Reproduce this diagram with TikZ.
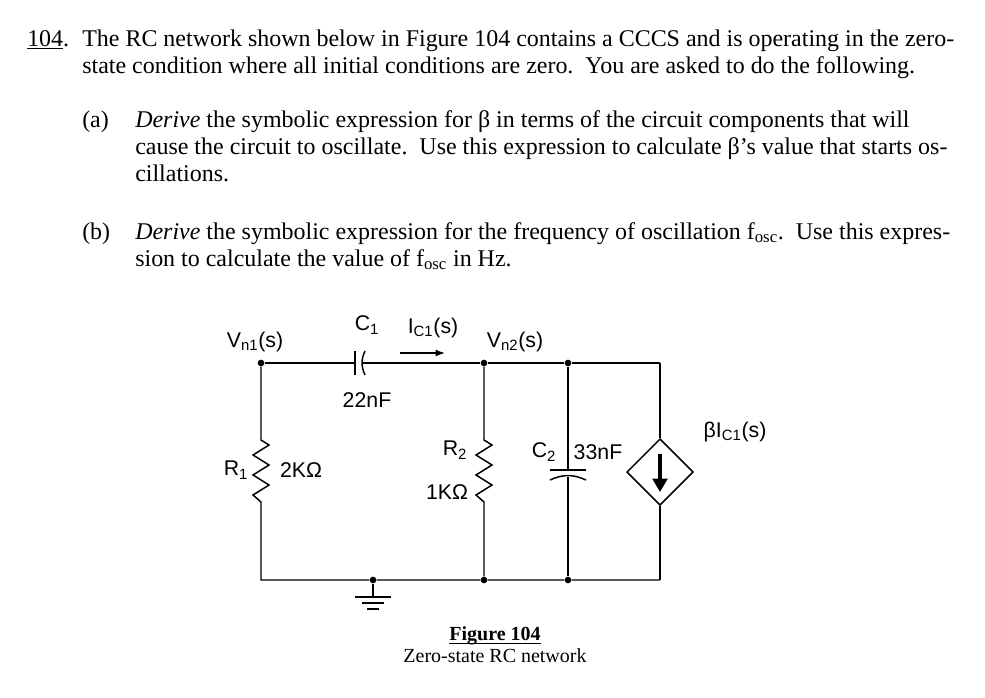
\documentclass[tikz,border=0pt]{standalone}
\usepackage{fontspec}
\setmainfont{Liberation Serif}
\newfontfamily\circfont{Liberation Sans}
\usetikzlibrary{arrows.meta,shapes.geometric}
\tikzset{
  txt/.style = {anchor=base west, inner sep=0pt, font=\fontsize{18}{20}\selectfont},
  figtxt/.style = {anchor=base, inner sep=0pt, font=\fontsize{15}{17}\selectfont},
  lbl/.style = {inner sep=0pt, font=\circfont\fontsize{16}{18}\selectfont},
  wire/.style = {line width=1.1pt},
  dot/.style = {circle, fill, inner sep=0pt, minimum size=5pt},
}
\begin{document}
\begin{tikzpicture}[x=0.0264cm, y=-0.0264cm]
\useasboundingbox (0,0) rectangle (985,697);

  % problem text
  \node[txt] (num) at (27,46) {\underline{104}.};
  \node[txt] (l1) at (82,46) {The RC network shown below in Figure 104 contains a CCCS and is operating in the zero-};
  \node[txt] (l2) at (82,73) {state condition where all initial conditions are zero.\ \ You are asked to do the following.};
  \node[txt] (pa) at (82,127) {(a)};
  \node[txt] (a1) at (135,127) {\textit{Derive} the symbolic expression for β in terms of the circuit components that will};
  \node[txt] (a2) at (135,154) {cause the circuit to oscillate.\ \ Use this expression to calculate β’s value that starts os-};
  \node[txt] (a3) at (135,181) {cillations.};
  \node[txt] (pb) at (82,239) {(b)};
  \node[txt] (b1) at (135,239) {\textit{Derive} the symbolic expression for the frequency of oscillation f\textsubscript{osc}.\ \ Use this expres-};
  \node[txt] (b2) at (135,266) {sion to calculate the value of f\textsubscript{osc} in Hz.};

  % nodes of the circuit
  \node[dot] (n1) at (261,363) {};
  \node[dot] (n2) at (484,363) {};
  \node[dot] (n3) at (568,363) {};
  \coordinate (tr) at (660,363);
  \coordinate (bl) at (261,580);
  \node[dot] (g) at (373,580) {};
  \node[dot] (b2n) at (484,580) {};
  \node[dot] (b3n) at (568,580) {};
  \coordinate (br) at (660,580);

  % C1
  \coordinate (c1a) at (355,363);
  \coordinate (c1b) at (362,363);
  \draw[wire] (n1) -- (c1a);
  \draw[wire] (c1b) -- (n2) -- (n3) -- (tr);
  \draw[wire] (355,351) -- (355,375);
  \draw[wire] (365,351) to[bend right=25] (365,375);
  \node[lbl] (c1l) at (367,325) {C\textsubscript{1}};
  \node[lbl] (c1v) at (367,400) {22nF};
  \node[lbl] (icl) at (433,328) {I\textsubscript{C1}(s)};
  \draw[wire, -{Latex[length=7pt]}] (400,353) -- (445,353);
  \node[lbl] (vn1) at (255,342) {V\textsubscript{n1}(s)};
  \node[lbl] (vn2) at (515,342) {V\textsubscript{n2}(s)};

  % R1
  \draw[wire] (n1) -- (261,440) -- (269,445) -- (253,455) -- (269,465) -- (253,475)
     -- (269,485) -- (253,495) -- (261,502) -- (bl) -- (g) -- (b2n) -- (b3n) -- (br);
  \node[lbl] (r1l) at (236,470) {R\textsubscript{1}};
  \node[lbl] (r1v) at (301,470) {2KΩ};

  % R2
  \draw[wire] (n2) -- (484,440) -- (492,445) -- (476,455) -- (492,465) -- (476,475)
     -- (492,485) -- (476,495) -- (484,502) -- (b2n);
  \node[lbl] (r2l) at (455,450) {R\textsubscript{2}};
  \node[lbl] (r2v) at (447,492) {1KΩ};

  % C2
  \draw[wire] (n3) -- (568,470);
  \draw[wire] (550,470) -- (586,470);
  \draw[wire] (550,480) to[bend left=25] (586,480);
  \draw[wire] (568,477) -- (b3n);
  \node[lbl] (c2l) at (544,452) {C\textsubscript{2}};
  \node[lbl] (c2v) at (598,452) {33nF};

  % CCCS
  \node[draw, wire, diamond, minimum size=50pt, inner sep=0pt, shape aspect=1] (src) at (660,472) {};
  \draw[wire] (tr) -- (src.north);
  \draw[wire] (src.south) -- (br);
  \draw[line width=2.6pt, -{Triangle[length=10pt,width=11pt]}] (660,454) -- (660,492);
  \node[lbl] (srcl) at (735,432) {βI\textsubscript{C1}(s)};

  % ground
  \draw[wire] (g) -- (373,597);
  \draw[wire] (355,597) -- (391,597);
  \draw[wire] (362,603) -- (384,603);
  \draw[wire] (367,609) -- (379,609);

  % caption
  \node[figtxt, font=\fontsize{15}{17}\selectfont\bfseries] (fig) at (495,640) {Figure 104};
  \draw[line width=0.8pt] ([yshift=-2.5pt]fig.base west) -- ([yshift=-2.5pt]fig.base east);
  \node[figtxt] (sub) at (495,662) {Zero-state RC network};
\end{tikzpicture}
\end{document}
